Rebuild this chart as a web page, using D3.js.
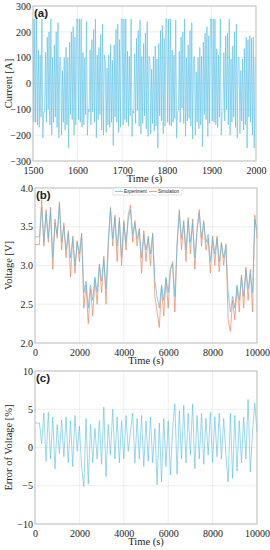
<!DOCTYPE html>
<html>
<head>
<meta charset="utf-8">
<script src="https://cdn.jsdelivr.net/npm/d3@7"></script>
<style>
  body { margin: 0; background: #fff; }
  text { font-family: "Liberation Serif", "DejaVu Serif", serif; fill: #222; }
</style>
</head>
<body>
<div id="container"></div>
<script>
/* CONSTANTS AND GLOBALS */
const width = 270;
const height = 550;
const blue = "#52bde6";
const orange = "#f0845a";

/* DATA */
// (a) current, sampled every 2 s from 1500 s
const currentStart = 1500;
const currentStep = 2;
const current = [
  250,-150,250,-150,250,-160,130,-170,110,-130, 250,-210,-110,-110,120,-150,180,-100,200,-160,
  250,-200,100,-150,150,-130,200,-170,235,-210, 100,100,-200,50,-150,100,-180,140,-160,100,
  -250,160,-120,200,-140,220,-200,180,-160,250,
  250,-140,250,-150,250,-170,120,-160,100,-120, 240,-200,-100,-110,130,-160,170,-110,210,-150,
  250,-210,110,-140,140,-120,190,-180,230,-200, 110,90,-190,60,-160,110,-170,150,-150,90,
  -240,150,-130,210,-150,230,-190,170,-170,250,
  250,-160,250,-140,250,-150,125,-165,105,-125, 250,-205,-105,-115,115,-155,175,-105,205,-165,
  245,-195,105,-155,155,-125,195,-175,240,-205, 105,95,-195,55,-155,105,-185,145,-165,95,
  -250,155,-125,205,-145,225,-195,175,-165,250,
  250,-150,250,-160,250,-165,130,-150,110,-135, 245,-210,-110,-105,125,-150,180,-95,200,-155,
  250,-205,100,-145,150,-135,205,-165,235,-215, 100,105,-200,45,-150,100,-175,140,-160,105,
  -245,160,-120,195,-140,220,-205,185,-155,250,
  250,-145,250,-150,250,-160,135,-170,110,-130, 250,-200,-115,-110,120,-145,185,-100,195,-160,
  250,-200,95,-150,145,-130,200,-170,230,-210, 100,100,-195,50,-145,95,-180,135,-160,180,
  -250,170,-130,185,-150,175,-200,180,-250,100,
  100
];

// (b) voltage, sampled every 100 s from 0 s
const voltageStart = 0;
const voltageStep = 100;
const voltageExp = [
  3.37,3.37,3.37,3.75,3.30,3.68,3.35,3.70,3.10,3.55,
  3.40,3.78,3.30,3.50,3.20,3.42,3.10,3.35,3.00,3.30,
  3.15,3.40,2.65,2.80,2.45,2.75,2.55,2.85,2.65,3.00,
  2.80,3.08,2.70,3.30,3.72,3.35,3.62,3.25,3.58,3.10,
  3.55,3.30,3.60,3.72,3.40,3.55,3.35,3.45,3.10,3.40,
  3.20,3.35,3.15,3.40,2.80,2.60,2.45,2.75,2.55,2.85,
  2.65,2.95,3.02,2.60,3.30,3.68,3.35,3.55,3.20,3.58,
  3.30,3.55,3.10,3.45,3.68,3.35,3.55,3.30,3.40,3.05,
  3.35,3.15,3.35,3.05,3.28,3.10,3.25,2.65,2.40,2.60,
  2.45,2.75,2.55,2.85,2.60,2.95,2.70,2.90,2.65,3.60,
  3.45
];
const voltageSim = [
  3.27,3.27,3.27,3.85,3.25,3.72,3.30,3.75,2.95,3.60,
  3.35,3.82,3.20,3.55,3.10,3.45,2.85,3.38,2.90,3.32,
  3.05,3.42,2.45,2.75,2.25,2.70,2.35,2.82,2.50,3.02,
  2.65,3.12,2.50,3.25,3.75,3.25,3.65,3.05,3.62,3.00,
  3.58,3.20,3.65,3.78,3.30,3.58,3.25,3.48,2.90,3.45,
  3.05,3.38,3.00,3.42,2.60,2.40,2.20,2.72,2.35,2.82,
  2.45,2.95,3.05,2.40,3.25,3.72,3.20,3.58,3.05,3.62,
  3.15,3.60,2.95,3.48,3.72,3.25,3.58,3.20,3.35,2.90,
  3.38,3.00,3.38,2.92,3.30,3.00,3.28,2.30,2.15,2.55,
  2.30,2.72,2.40,2.88,2.45,2.98,2.55,2.95,2.40,3.65,
  3.35
];
const legendLabels = ["Experiment", "Simulation"];

// (c) error of voltage in %, sampled every 100 s from 0 s
const error = [
  3.2,3.2,3.2,0.5,4.5,-1.8,4.6,-1.5,4.0,-2.8,
  3.0,-0.8,3.6,-1.2,4.0,-2.0,3.5,-2.5,4.2,-0.5,
  2.8,-2.5,-5.1,3.8,-4.8,3.0,-2.0,2.5,-1.5,3.5,
  -2.2,5.3,-3.8,3.0,-1.0,5.0,-1.5,4.0,-2.0,3.5,
  -1.5,4.2,-0.5,2.0,4.5,-2.0,3.8,-1.5,4.2,-2.5,
  3.5,-1.8,4.0,-2.0,2.5,-4.9,3.2,-4.5,3.8,-2.5,
  3.5,-3.6,2.5,5.7,-3.5,4.8,-1.5,5.5,-2.0,4.5,
  -1.0,5.7,-2.8,4.2,-1.5,4.5,-2.2,3.8,-1.0,4.6,
  -2.0,4.0,-1.2,4.5,-1.5,3.8,-1.0,-4.5,4.5,-4.0,
  4.2,-3.1,3.5,-2.0,4.0,-1.5,6.3,-3.2,2.0,5.8,
  2.0
];

// ticks
const currentXTicks = [1500, 1600, 1700, 1800, 1900, 2000];
const currentYTicks = [-300, -200, -100, 0, 100, 200, 300];
const timeTicks = [0, 2000, 4000, 6000, 8000, 10000];
const voltageYTicks = [2, 2.5, 3, 3.5, 4];
const errorYTicks = [-10, -5, 0, 5, 10];

/* DRAW */
const svg = d3.select("#container")
  .append("svg")
  .attr("width", width)
  .attr("height", height)

function panel(box, xDomain, yDomain, xTicks, yTicks, yLabel, tag) {
  const x = d3.scaleLinear().domain(xDomain).range([box.x0, box.x1])
  const y = d3.scaleLinear().domain(yDomain).range([box.y1, box.y0])
  const g = svg.append("g")

  // grid
  g.selectAll(".vgrid").data(xTicks).join("line")
    .attr("x1", d => x(d)).attr("x2", d => x(d))
    .attr("y1", box.y0).attr("y2", box.y1)
    .attr("stroke", "#e6e6e6").attr("stroke-width", 0.7)
  g.selectAll(".hgrid").data(yTicks).join("line")
    .attr("y1", d => y(d)).attr("y2", d => y(d))
    .attr("x1", box.x0).attr("x2", box.x1)
    .attr("stroke", "#e6e6e6").attr("stroke-width", 0.7)

  // axes
  const xAxis = d3.axisBottom(x).tickValues(xTicks).tickSize(0).tickPadding(6)
    .tickFormat(d3.format("d"))
  g.append("g")
    .attr("transform", `translate(0, ${box.y1})`)
    .call(xAxis)
    .call(a => a.select(".domain").remove())
    .selectAll("text").attr("font-size", 10)
    .style("font-family", "'Liberation Serif', serif").style("fill", "#222")

  const yAxis = d3.axisLeft(y).tickValues(yTicks).tickSize(0).tickPadding(2)
  g.append("g")
    .attr("transform", `translate(${box.x0}, 0)`)
    .call(yAxis)
    .call(a => a.select(".domain").remove())
    .selectAll("text").attr("font-size", 10)
    .style("font-family", "'Liberation Serif', serif").style("fill", "#222")

  g.append("text")
    .attr("x", (box.x0 + box.x1) / 2).attr("y", box.y1 + 21)
    .attr("text-anchor", "middle").attr("font-size", 10.5)
    .text("Time (s)")

  g.append("text")
    .attr("transform", `translate(12, ${(box.y0 + box.y1) / 2}) rotate(-90)`)
    .attr("text-anchor", "middle").attr("font-size", 10.5)
    .text(yLabel)

  return { x, y, g, box, tag }
}

function frame(p) {
  p.g.append("rect")
    .attr("x", p.box.x0).attr("y", p.box.y0)
    .attr("width", p.box.x1 - p.box.x0).attr("height", p.box.y1 - p.box.y0)
    .attr("fill", "none").attr("stroke", "#b4b4b4").attr("stroke-width", 0.8)
  p.g.append("text")
    .attr("x", p.box.x0 + 1).attr("y", p.box.y0 + 11)
    .attr("font-size", 11.5).attr("font-weight", "bold")
    .style("font-family", "'Liberation Sans', sans-serif")
    .text(p.tag)
}

function series(values, start, step) {
  return values.map((v, i) => ({ t: start + i * step, v }))
}

function drawLine(p, data, color, w) {
  const line = d3.line().x(d => p.x(d.t)).y(d => p.y(d.v))
  p.g.append("path")
    .datum(data)
    .attr("d", line)
    .attr("fill", "none")
    .attr("stroke", color)
    .attr("stroke-width", w)
    .attr("stroke-linejoin", "round")
}

// (a)
const pa = panel({ x0: 33, x1: 256, y0: 6, y1: 161 }, [1500, 2000], [-300, 300],
  currentXTicks, currentYTicks, "Current [A]", "(a)")
drawLine(pa, series(current, currentStart, currentStep), blue, 0.6)
frame(pa)

// (b)
const pb = panel({ x0: 35, x1: 257, y0: 188, y1: 343 }, [0, 10000], [2, 4],
  timeTicks, voltageYTicks, "Voltage [V]", "(b)")
drawLine(pb, series(voltageSim, voltageStart, voltageStep), orange, 0.7)
drawLine(pb, series(voltageExp, voltageStart, voltageStep), blue, 0.7)
frame(pb)

// legend
const leg = pb.g.append("g").attr("transform", "translate(113, 188)")
leg.append("rect").attr("width", 69).attr("height", 7)
  .attr("fill", "#fff").attr("stroke", "#c8c8c8").attr("stroke-width", 0.5)
legendLabels.forEach((lab, i) => {
  const c = i === 0 ? blue : orange
  leg.append("line").attr("x1", 2 + i * 34).attr("x2", 10 + i * 34)
    .attr("y1", 3.5).attr("y2", 3.5).attr("stroke", c).attr("stroke-width", 0.8)
  leg.append("text").attr("x", 11 + i * 34).attr("y", 5.2)
    .attr("font-size", 4.5).style("font-family", "'Liberation Sans', sans-serif")
    .text(lab)
})

// (c)
const pc = panel({ x0: 35, x1: 257, y0: 371, y1: 524 }, [0, 10000], [-10, 10],
  timeTicks, errorYTicks, "Error of Voltage [%]", "(c)")
drawLine(pc, series(error, voltageStart, voltageStep), blue, 0.6)
frame(pc)
</script>
</body>
</html>
